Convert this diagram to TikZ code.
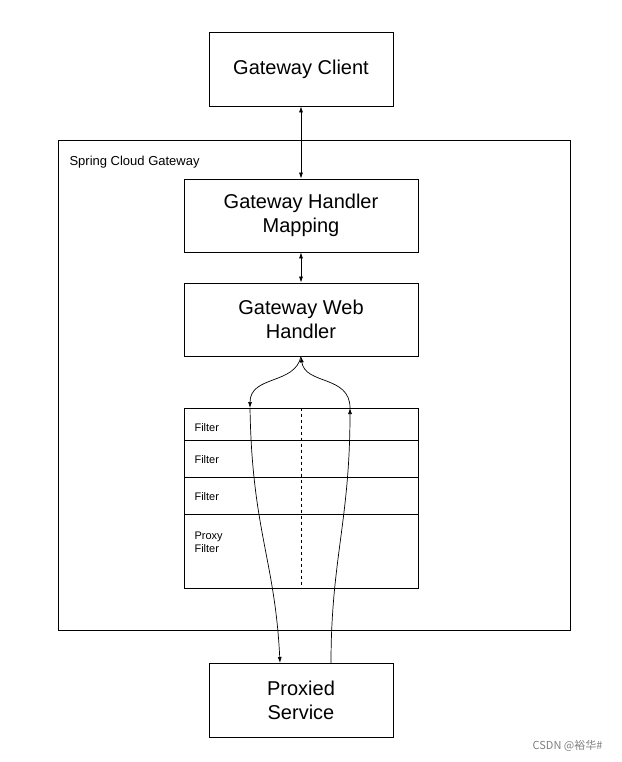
\documentclass[tikz,border=0pt]{standalone}
\usepackage{fontspec}
\setmainfont{Liberation Sans}
\newfontfamily\cjk{Noto Sans CJK SC}
\usetikzlibrary{arrows.meta}
\begin{document}
\begin{tikzpicture}[x=1pt,y=-1pt,
  box/.style={draw,line width=0.8pt,align=center,font=\fontsize{20}{24}\selectfont,inner sep=0pt},
  arr/.style={line width=0.7pt,-{Latex[length=6pt,width=4pt]}},
  darr/.style={line width=0.7pt,{Latex[length=6pt,width=4pt]}-{Latex[length=6pt,width=4pt]}},
  lbl/.style={anchor=west,font=\fontsize{11}{13}\selectfont,align=left}]
\useasboundingbox (0,0) rectangle (621,762);
\node[draw,line width=0.8pt,minimum width=512pt,minimum height=490pt,inner sep=0pt] (scg) at (314,385) {};
\node[anchor=west,font=\fontsize{13}{15}\selectfont] (scgl) at (66,162) {Spring Cloud Gateway};
\node[box,minimum width=184pt,minimum height=74pt] (client) at (301,69) {Gateway Client};
\node[box,minimum width=234pt,minimum height=73pt] (map) at (301,215.5) {Gateway Handler\\Mapping};
\node[box,minimum width=234pt,minimum height=73pt] (web) at (301,319.5) {Gateway Web\\Handler};
\node[box,minimum width=184pt,minimum height=74pt] (prox) at (301,700) {Proxied\\Service};
\node[draw,line width=0.8pt,minimum width=234pt,minimum height=180pt,inner sep=0pt] (tab) at (301,498) {};
\coordinate (r1) at (184,440); \coordinate (r1e) at (418,440);
\coordinate (r2) at (184,477); \coordinate (r2e) at (418,477);
\coordinate (r3) at (184,514); \coordinate (r3e) at (418,514);
\draw[line width=0.8pt] (r1)--(r1e) (r2)--(r2e) (r3)--(r3e);
\draw[dashed,line width=0.8pt] (tab.north) -- (tab.south);
\node[lbl] (f1) at (191,428) {Filter};
\node[lbl] (f2) at (191,460) {Filter};
\node[lbl] (f3) at (191,497) {Filter};
\node[lbl] (f4) at (191,542) {Proxy\\Filter};
\draw[darr] (client.south) -- (map.north);
\draw[darr] (map.south) -- (web.north);
\coordinate (lt) at (250,408);
\coordinate (rt) at (350,408);
\coordinate (lb) at (280,663);
\coordinate (rb) at (331,663);
\draw[arr] (web.south) .. controls (295,385) and (250,375) .. (lt);
\draw[arr] (lt) .. controls (252,530) and (275,560) .. (lb);
\draw[arr] (rb) .. controls (331,560) and (350,520) .. (rt);
\draw[arr] (rt) .. controls (350,375) and (305,385) .. (web.south);
\node[anchor=east,text=gray,font=\cjk\fontsize{11}{13}\selectfont] (wm) at (606,746) {CSDN @裕华\#};
\end{tikzpicture}
\end{document}
